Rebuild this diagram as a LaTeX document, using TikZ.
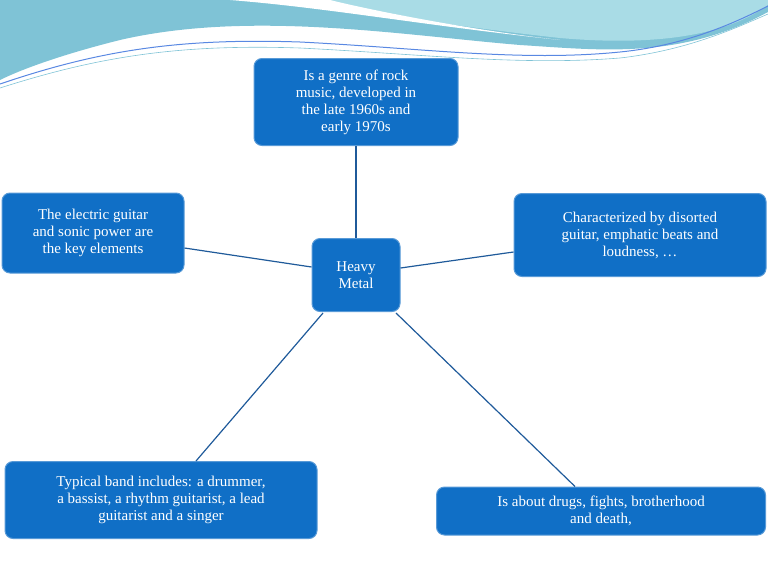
\documentclass[tikz,border=0pt]{standalone}
\usepackage{fontspec}
\setmainfont{Liberation Serif}
\begin{document}
\begin{tikzpicture}[x=1pt,y=-1pt,
  box/.style={fill=boxblue,draw=boxblue!70!white,line width=1pt,rounded corners=8pt,text=white,align=center,font=\fontsize{15}{17}\selectfont,inner sep=4pt},
  link/.style={draw=linkblue,line width=1.2pt}]
\definecolor{boxblue}{HTML}{106FC6}
\definecolor{linkblue}{HTML}{1F5A9A}
\definecolor{wave1}{HTML}{7FC3D6}
\definecolor{wave2}{HTML}{A9DCE6}
\useasboundingbox (0,0) rectangle (768,576);
% waves
\fill[wave1] (0,0) -- (768,0) -- (768,12) .. controls (680,60) and (600,50) .. (520,45) .. controls (400,35) and (250,10) .. (120,40) .. controls (60,55) and (20,70) .. (0,80) -- cycle;
\fill[wave2] (240,0) -- (768,0) -- (768,5) .. controls (720,40) and (640,45) .. (560,38) .. controls (440,25) and (330,5) .. (240,0) -- cycle;
\fill[white] (230,0) .. controls (330,8) and (420,25) .. (560,40) .. controls (470,30) and (370,10) .. (330,0) -- cycle;
\draw[wave1!70!blue,line width=1pt] (0,84) .. controls (100,50) and (180,38) .. (300,42) .. controls (420,48) and (520,62) .. (620,52) .. controls (690,45) and (740,20) .. (768,6);
\draw[wave1,line width=0.6pt] (0,88) .. controls (100,56) and (180,44) .. (300,48) .. controls (420,54) and (520,66) .. (620,58) .. controls (690,50) and (740,26) .. (768,14);

\node[box,minimum width=204pt,minimum height=87pt] (top) at (356,102) {Is a genre of rock\\music, developed in\\the late 1960s and\\early 1970s};
\node[box,minimum width=182pt,minimum height=80pt] (left) at (93,233) {The electric guitar\\and sonic power are\\the key elements};
\node[box,minimum width=252pt,minimum height=83pt] (right) at (640,235) {Characterized by disorted\\guitar, emphatic beats and\\loudness, \dots};
\node[box,minimum width=88pt,minimum height=73pt] (hm) at (356,275) {Heavy\\Metal};
\node[box,minimum width=312pt,minimum height=77pt] (bl) at (161,500) {Typical band includes: a drummer,\\a bassist, a rhythm guitarist, a lead\\guitarist and a singer};
\node[box,minimum width=329pt,minimum height=48pt] (br) at (601,511) {Is about drugs, fights, brotherhood\\and death,};

\draw[link] (hm.north) -- (top.south);
\draw[link] (hm.west |- 0,267) -- (left.east |- 0,248);
\draw[link] (hm.east |- 0,268) -- (right.west |- 0,252);
\draw[link] (323,313) -- (bl.north -| 196,0);
\draw[link] (396,313) -- (br.north -| 575,0);
\end{tikzpicture}
\end{document}
